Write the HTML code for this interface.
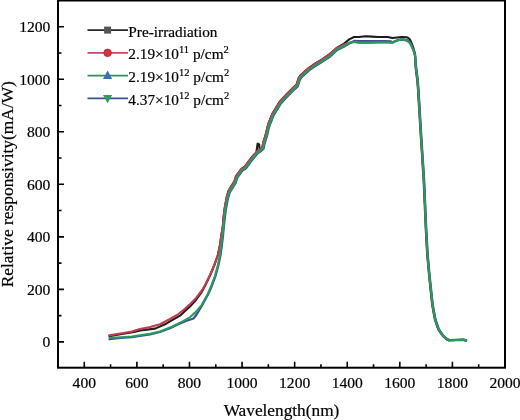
<!DOCTYPE html><html><head><meta charset="utf-8"><style>html,body{margin:0;padding:0;background:#fff;}svg{display:block;filter:blur(0.3px);}</style></head><body><svg width="520" height="420" viewBox="0 0 520 420">
<rect width="520" height="420" fill="#fff"/>
<style>text{stroke:#000;stroke-width:0.2px;paint-order:stroke;}</style>
<path d="M109.5,336.2 L120.4,334.3 L134.0,332.0 L140.0,330.5 L155.0,328.6 L165.0,324.3 L170.0,321.4 L180.0,315.7 L184.0,311.9 L190.0,306.5 L196.0,300.0 L201.8,291.8 L205.2,285.5 L210.0,275.5 L214.3,265.3 L217.9,255.0 L220.0,245.0 L221.4,235.0 L222.9,226.0 L223.2,220.5 L224.6,208.6 L226.8,196.7 L228.6,190.7 L231.5,185.9 L234.5,181.2 L236.0,176.2 L241.3,169.0 L244.9,166.7 L249.1,160.7 L253.8,154.8 L256.3,153.0 L257.6,143.6 L259.2,144.5 L259.6,149.5 L262.5,147.5 L262.4,147.0 L263.3,142.3 L264.8,137.5 L266.2,132.7 L267.2,128.0 L268.6,123.2 L270.5,118.5 L272.4,113.7 L274.8,109.7 L279.3,102.3 L286.4,94.4 L293.6,87.3 L296.6,84.6 L298.6,78.2 L300.7,75.1 L307.9,68.7 L315.0,63.7 L322.2,59.4 L330.0,53.8 L336.7,48.0 L344.4,43.3 L349.2,39.4 L354.0,37.0 L358.8,37.0 L365.6,36.2 L372.0,36.6 L378.0,37.0 L387.6,37.0 L392.4,38.0 L397.2,37.5 L402.0,37.0 L406.8,37.3 L408.0,37.7 L409.9,39.5 L411.6,43.1 L413.4,47.9 L414.9,53.8 L415.7,68.0 L417.2,80.0 L418.0,90.0 L420.7,135.0 L423.6,180.0 L425.8,230.0 L427.2,255.0 L429.0,275.0 L432.2,305.0 L435.0,320.0 L438.2,329.2 L442.0,335.0 L445.9,338.8 L448.7,340.3 L455.7,340.0 L463.2,339.8 L465.7,340.6" fill="none" stroke="#1e1e1e" stroke-width="2.1" stroke-linejoin="round" stroke-linecap="round"/>
<path d="M109.2,335.4 L120.4,333.5 L131.9,331.5 L140.0,329.0 L150.0,327.1 L160.0,324.3 L170.0,319.0 L178.0,314.3 L184.0,309.5 L189.9,304.2 L195.9,298.2 L201.8,290.5 L205.2,284.8 L210.0,275.0 L214.3,265.0 L217.9,255.0 L220.0,245.0 L221.4,235.0 L222.9,226.0 L223.2,220.6 L224.6,208.7 L226.8,196.8 L228.6,190.8 L231.5,186.0 L234.5,181.3 L236.0,176.3 L241.3,169.1 L244.9,166.8 L249.1,160.8 L253.8,154.9 L256.8,151.4 L260.0,149.4 L262.4,147.2 L263.3,142.5 L264.8,137.7 L266.2,132.9 L267.2,128.2 L268.6,123.4 L270.5,118.7 L272.4,113.9 L274.8,109.9 L279.3,102.5 L286.4,94.6 L293.6,87.5 L296.6,84.8 L298.6,78.4 L300.7,75.3 L307.9,68.9 L315.0,63.9 L322.2,59.6 L329.3,54.7 L336.0,48.4 L343.7,44.6 L349.2,43.0 L354.0,42.0 L358.8,42.7 L368.5,42.8 L378.0,42.4 L387.6,42.4 L392.4,42.7 L397.2,40.6 L400.9,39.7 L404.0,40.0 L406.9,40.6 L409.9,43.0 L411.6,46.3 L413.4,50.4 L414.9,55.2 L416.0,68.2 L417.5,80.2 L418.3,90.2 L421.0,135.2 L423.9,180.2 L426.1,230.2 L427.5,255.2 L429.3,275.2 L432.5,305.2 L435.3,320.2 L438.5,329.4 L442.3,335.2 L446.2,339.0 L449.0,340.5 L456.0,340.2 L463.5,340.0 L466.0,340.8" fill="none" stroke="#c43c50" stroke-width="2.1" stroke-linejoin="round" stroke-linecap="round"/>
<path d="M109.5,339.3 L120.4,338.0 L131.9,337.2 L140.0,336.0 L150.0,334.5 L160.0,332.0 L170.0,328.3 L180.0,323.5 L186.0,321.0 L193.5,318.5 L197.0,314.0 L201.8,306.0 L207.8,295.0 L211.8,286.2 L215.4,276.5 L218.4,265.5 L220.5,255.5 L221.9,245.5 L223.1,235.5 L223.8,227.5 L224.4,222.2 L225.8,210.3 L228.0,198.4 L229.8,192.4 L232.7,187.6 L235.7,182.9 L237.2,177.9 L242.5,170.7 L246.1,168.4 L250.3,162.4 L255.0,156.5 L258.0,153.0 L261.2,151.0 L263.6,148.8 L264.5,144.1 L266.0,139.3 L267.4,134.5 L268.4,129.8 L269.8,125.0 L271.7,120.3 L273.6,115.5 L276.0,111.5 L280.5,104.1 L287.6,96.2 L294.8,89.1 L297.8,86.4 L299.8,80.0 L301.9,76.9 L309.1,70.5 L316.2,65.5 L323.4,61.2 L330.5,56.3 L337.2,50.0 L344.9,46.2 L349.7,43.3 L354.0,40.8 L358.8,41.1 L368.5,41.1 L378.0,41.1 L385.0,41.1 L391.0,41.4 L392.7,42.2 L397.5,40.1 L401.2,39.2 L404.3,39.5 L407.2,40.1 L410.2,42.5 L411.9,45.8 L413.7,49.9 L415.2,54.7 L416.3,67.7 L417.8,79.7 L418.6,89.7 L421.3,134.7 L424.2,179.7 L426.4,229.7 L427.8,254.7 L429.6,274.7 L432.8,304.7 L435.6,319.7 L438.8,328.9 L442.6,334.7 L446.5,338.5 L449.3,340.0 L456.3,339.7 L463.8,339.5 L466.3,340.3" fill="none" stroke="#3c4f98" stroke-width="2.1" stroke-linejoin="round" stroke-linecap="round"/>
<path d="M109.5,338.0 L120.4,337.3 L131.9,336.5 L140.0,335.2 L150.0,333.8 L160.0,331.4 L170.0,327.6 L180.0,322.8 L189.9,317.3 L195.9,311.9 L201.8,304.8 L207.8,294.0 L211.3,285.7 L214.9,276.0 L217.9,265.0 L220.0,255.0 L221.4,245.0 L222.6,235.0 L223.3,227.0 L223.9,221.7 L225.3,209.8 L227.5,197.9 L229.3,191.9 L232.2,187.1 L235.2,182.4 L236.7,177.4 L242.0,170.2 L245.6,167.9 L249.8,161.9 L254.5,156.0 L257.5,152.5 L260.7,150.5 L263.1,148.3 L264.0,143.6 L265.5,138.8 L266.9,134.0 L267.9,129.3 L269.3,124.5 L271.2,119.8 L273.1,115.0 L275.5,111.0 L280.0,103.6 L287.1,95.7 L294.3,88.6 L297.3,85.9 L299.3,79.5 L301.4,76.4 L308.6,70.0 L315.7,65.0 L322.9,60.7 L330.0,55.8 L336.7,49.5 L344.4,45.7 L349.2,42.8 L354.0,41.8 L358.8,42.5 L368.5,42.6 L378.0,42.2 L387.6,42.2 L392.4,42.5 L397.2,40.4 L400.9,39.5 L404.0,39.8 L406.9,40.4 L409.9,42.8 L411.6,46.1 L413.4,50.2 L414.9,55.0 L416.0,68.0 L417.5,80.0 L418.3,90.0 L421.0,135.0 L423.9,180.0 L426.1,230.0 L427.5,255.0 L429.3,275.0 L432.5,305.0 L435.3,320.0 L438.5,329.2 L442.3,335.0 L446.2,338.8 L449.0,340.3 L456.0,340.0 L463.5,339.8 L466.0,340.6" fill="none" stroke="#2a9a5c" stroke-width="2.1" stroke-linejoin="round" stroke-linecap="round"/>
<rect x="58" y="0.5" width="447" height="367.2" fill="none" stroke="#000" stroke-width="2"/>
<path d="M84.29,367.7 V361.70 M110.59,367.7 V364.20 M136.88,367.7 V361.70 M163.18,367.7 V364.20 M189.47,367.7 V361.70 M215.76,367.7 V364.20 M242.06,367.7 V361.70 M268.35,367.7 V364.20 M294.65,367.7 V361.70 M320.94,367.7 V364.20 M347.24,367.7 V361.70 M373.53,367.7 V364.20 M399.82,367.7 V361.70 M426.12,367.7 V364.20 M452.41,367.7 V361.70 M478.71,367.7 V364.20 M505.00,367.7 V361.70 M58,341.90 H64.00 M58,315.63 H61.50 M58,289.37 H64.00 M58,263.10 H61.50 M58,236.83 H64.00 M58,210.57 H61.50 M58,184.30 H64.00 M58,158.03 H61.50 M58,131.77 H64.00 M58,105.50 H61.50 M58,79.23 H64.00 M58,52.97 H61.50 M58,26.70 H64.00" stroke="#000" stroke-width="1.6" fill="none"/>
<text x="84.29" y="388.2" text-anchor="middle" font-family='"Liberation Serif", "Times New Roman", serif' font-size="15.6">400</text>
<text x="136.88" y="388.2" text-anchor="middle" font-family='"Liberation Serif", "Times New Roman", serif' font-size="15.6">600</text>
<text x="189.47" y="388.2" text-anchor="middle" font-family='"Liberation Serif", "Times New Roman", serif' font-size="15.6">800</text>
<text x="242.06" y="388.2" text-anchor="middle" font-family='"Liberation Serif", "Times New Roman", serif' font-size="15.6">1000</text>
<text x="294.65" y="388.2" text-anchor="middle" font-family='"Liberation Serif", "Times New Roman", serif' font-size="15.6">1200</text>
<text x="347.24" y="388.2" text-anchor="middle" font-family='"Liberation Serif", "Times New Roman", serif' font-size="15.6">1400</text>
<text x="399.82" y="388.2" text-anchor="middle" font-family='"Liberation Serif", "Times New Roman", serif' font-size="15.6">1600</text>
<text x="452.41" y="388.2" text-anchor="middle" font-family='"Liberation Serif", "Times New Roman", serif' font-size="15.6">1800</text>
<text x="505.00" y="388.2" text-anchor="middle" font-family='"Liberation Serif", "Times New Roman", serif' font-size="15.6">2000</text>
<text x="50.4" y="347.40" text-anchor="end" font-family='"Liberation Serif", "Times New Roman", serif' font-size="15.6">0</text>
<text x="50.4" y="294.87" text-anchor="end" font-family='"Liberation Serif", "Times New Roman", serif' font-size="15.6">200</text>
<text x="50.4" y="242.33" text-anchor="end" font-family='"Liberation Serif", "Times New Roman", serif' font-size="15.6">400</text>
<text x="50.4" y="189.80" text-anchor="end" font-family='"Liberation Serif", "Times New Roman", serif' font-size="15.6">600</text>
<text x="50.4" y="137.27" text-anchor="end" font-family='"Liberation Serif", "Times New Roman", serif' font-size="15.6">800</text>
<text x="50.4" y="84.73" text-anchor="end" font-family='"Liberation Serif", "Times New Roman", serif' font-size="15.6">1000</text>
<text x="50.4" y="32.20" text-anchor="end" font-family='"Liberation Serif", "Times New Roman", serif' font-size="15.6">1200</text>
<text x="281.5" y="416" text-anchor="middle" font-family='"Liberation Serif", "Times New Roman", serif' font-size="17.3">Wavelength(nm)</text>
<text transform="translate(12.6,184.2) rotate(-90)" text-anchor="middle" font-family='"Liberation Serif", "Times New Roman", serif' font-size="17.4">Relative responsivity(mA/W)</text>
<path d="M87.5,30.1 H128" stroke="#262626" stroke-width="1.6"/>
<rect x="104.1" y="26.6" width="7" height="7" fill="#555"/>
<text x="128.3" y="36.5" font-family='"Liberation Serif", "Times New Roman", serif' font-size="15.3">Pre-irradiation</text>
<path d="M87.5,52.85 H128" stroke="#c24a5e" stroke-width="1.6"/>
<circle cx="107.6" cy="52.85" r="3.8" fill="#d8323e" stroke="#b02838" stroke-width="0.8"/>
<text x="128.3" y="59.2" font-family='"Liberation Serif", "Times New Roman", serif' font-size="15.3">2.19×10<tspan dy="-6" font-size="10.5">11</tspan><tspan dy="6"> p/cm</tspan><tspan dy="-6" font-size="10.5">2</tspan></text>
<path d="M87.5,75.6 H128" stroke="#3a8c5c" stroke-width="1.6"/>
<path d="M107.6,70.6 L112.19999999999999,78.89999999999999 L103.0,78.89999999999999 Z" fill="#3f6db0"/>
<text x="128.3" y="82.0" font-family='"Liberation Serif", "Times New Roman", serif' font-size="15.3">2.19×10<tspan dy="-6" font-size="10.5">12</tspan><tspan dy="6"> p/cm</tspan><tspan dy="-6" font-size="10.5">2</tspan></text>
<path d="M87.5,98.35 H128" stroke="#414d90" stroke-width="1.6"/>
<path d="M107.6,103.35 L112.19999999999999,95.05 L103.0,95.05 Z" fill="#2e9a5c"/>
<text x="128.3" y="104.8" font-family='"Liberation Serif", "Times New Roman", serif' font-size="15.3">4.37×10<tspan dy="-6" font-size="10.5">12</tspan><tspan dy="6"> p/cm</tspan><tspan dy="-6" font-size="10.5">2</tspan></text>
</svg></body></html>
